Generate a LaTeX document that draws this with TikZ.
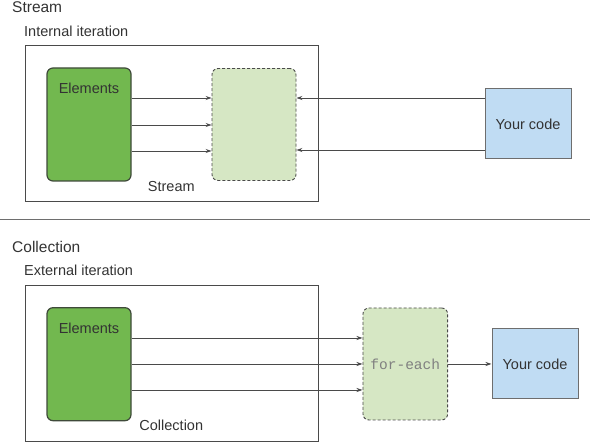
\documentclass[tikz,border=0pt]{standalone}
\usepackage{fontspec}
\setmainfont{Liberation Sans}
\setmonofont{Liberation Mono}
\usetikzlibrary{arrows.meta,positioning}
\definecolor{elgreen}{HTML}{72B84F}
\definecolor{elborder}{HTML}{3F4A3A}
\definecolor{flowgreen}{HTML}{D6E7C4}
\definecolor{codeblue}{HTML}{C0DCF3}
\definecolor{linegray}{HTML}{4A4A4A}
\definecolor{txtgray}{HTML}{333333}
\tikzset{
  frame/.style={draw=linegray,line width=1pt,minimum width=293pt,minimum height=156pt,inner sep=0pt},
  elbox/.style={draw=elborder,fill=elgreen,line width=1.2pt,rounded corners=6pt,minimum width=84pt,minimum height=113pt,inner sep=0pt},
  flowbox/.style={draw=linegray,fill=flowgreen,dash pattern=on 3pt off 2pt,line width=0.9pt,rounded corners=6pt,minimum width=84pt,minimum height=112pt,inner sep=0pt},
  codebox/.style={draw=linegray!80,fill=codeblue,line width=1pt,minimum width=86pt,minimum height=70pt,inner sep=0pt},
  lbl/.style={inner sep=0pt},
  arr/.style={->,draw=linegray,line width=0.9pt}
}
\begin{document}
\begin{tikzpicture}[x=1pt,y=-1pt,>={Stealth[length=6pt,width=4pt]},font=\fontsize{14.5}{17}\selectfont,text=txtgray]
\useasboundingbox (0,0) rectangle (590,443);
\node[frame] (sframe) at (171.5,124) {};
\node[elbox] (sel) at (89,124.5) {};
\node[flowbox] (sflow) at (254,124.5) {};
\node[codebox] (scode) at (528,124) {Your code};
\node[lbl,anchor=base west,font=\fontsize{15.5}{18}\selectfont] (stitle) at (12,12.7) {Stream};
\node[lbl,anchor=base west] (siter) at (24,36.7) {Internal iteration};
\node[lbl,anchor=base] (seltxt) at (89,93.3) {Elements};
\node[lbl,anchor=base] (sname) at (171.3,191.7) {Stream};
\foreach \y in {98,125,151}{\draw[arr] (sel.east |- 0,\y) -- (sflow.west |- 0,\y);}
\foreach \y in {98,150}{\draw[arr] (scode.west |- 0,\y) -- (sflow.east |- 0,\y);}
\coordinate (sepl) at (0,220);
\coordinate (sepr) at (590,220);
\draw[linegray!80,line width=1pt] (sepl) -- (sepr);
\node[frame,minimum height=156.3pt] (cframe) at (171.5,363.8) {};
\node[elbox] (cel) at (89,364.2) {};
\node[flowbox,minimum width=84.7pt] (cflow) at (405.3,364) {\texttt{\textcolor{gray}{for-each}}};
\node[codebox] (ccode) at (535,364) {Your code};
\node[lbl,anchor=base west,font=\fontsize{15.5}{18}\selectfont] (ctitle) at (12,252.7) {Collection};
\node[lbl,anchor=base west] (citer) at (24,276) {External iteration};
\node[lbl,anchor=base] (celtxt) at (89,333.3) {Elements};
\node[lbl,anchor=base] (cname) at (171.3,431) {Collection};
\foreach \y in {338,364,390}{\draw[arr] (cel.east |- 0,\y) -- (cflow.west |- 0,\y);}
\draw[arr] (cflow) -- (ccode);
\end{tikzpicture}
\end{document}
